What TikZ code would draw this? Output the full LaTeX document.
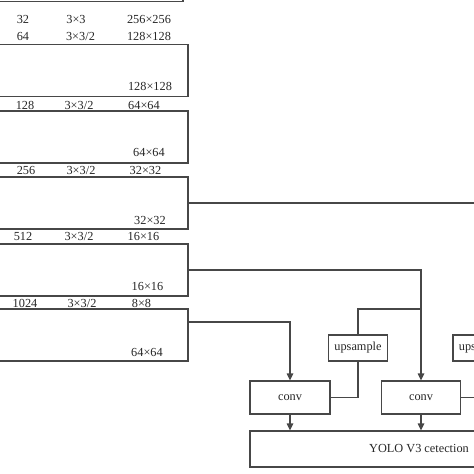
\documentclass[tikz,border=0pt]{standalone}
\usepackage{fontspec}
\setmainfont{Liberation Serif}
\usetikzlibrary{arrows.meta}
\begin{document}
\begin{tikzpicture}[x=1pt,y=-1pt,
  every node/.style={font=\fontsize{12.3}{14}\selectfont, text=black!85},
  ln/.style={draw=black!72, line width=1.2pt},
  arr/.style={ln, -{Triangle[length=7pt,width=6.5pt]}},
  bigbox/.style={ln, minimum width=198pt, minimum height=52pt, inner sep=0pt},
  smallbox/.style={ln, minimum height=33pt, inner sep=0pt},
  lbl/.style={inner sep=0pt, anchor=center}]
\useasboundingbox (0,0) rectangle (474,474);
\clip (0,0) rectangle (474,474);
% top partial box
\draw[ln] (-10,-20) rectangle (183,1.5);
% row labels
\node[lbl] (r1a) at (23,19.5) {32};
\node[lbl] (r1b) at (76,19.5) {3×3};
\node[lbl] (r1c) at (149,19.5) {256×256};
\node[lbl] (r2a) at (23,36) {64};
\node[lbl] (r2b) at (80.5,36) {3×3/2};
\node[lbl] (r2c) at (149,36) {128×128};
% box 1
\node[bigbox] (b1) at (89,70.5) {};
\node[lbl] (b1l) at (150,86) {128×128};
\node[lbl] (r3a) at (25,105) {128};
\node[lbl] (r3b) at (79,105) {3×3/2};
\node[lbl] (r3c) at (144,105) {64×64};
% box 2
\node[bigbox] (b2) at (89,137) {};
\node[lbl] (b2l) at (149,152.7) {64×64};
\node[lbl] (r4a) at (26,170.7) {256};
\node[lbl] (r4b) at (81,170.7) {3×3/2};
\node[lbl] (r4c) at (145.5,170.7) {32×32};
% box 3
\node[bigbox] (b3) at (89,203) {};
\node[lbl] (b3l) at (150,220.7) {32×32};
\node[lbl] (r5a) at (23,236.7) {512};
\node[lbl] (r5b) at (79,236.7) {3×3/2};
\node[lbl] (r5c) at (143.5,236.7) {16×16};
% box 4
\node[bigbox] (b4) at (89,270) {};
\node[lbl] (b4l) at (147.5,286.7) {16×16};
\node[lbl] (r6a) at (25,303.3) {1024};
\node[lbl] (r6b) at (82,303.3) {3×3/2};
\node[lbl] (r6c) at (141.5,303.3) {8×8};
% box 5
\node[bigbox] (b5) at (89,335) {};
\node[lbl] (b5l) at (147,352.3) {64×64};
% right part
\node[smallbox, minimum width=80pt] (conv1) at (290,397.5) {conv};
\node[smallbox, minimum width=79pt] (conv2) at (421,397.5) {conv};
\node[ln, minimum width=59pt, minimum height=26pt, inner sep=0pt] (ups1) at (358,348) {upsample};
\node[ln, minimum width=59pt, minimum height=26pt, inner sep=0pt] (ups2) at (482.5,348) {upsample};
\node[ln, minimum width=338pt, minimum height=36pt, inner sep=0pt] (yolo) at (419,449) {YOLO V3 cetection};
\coordinate (e3) at (490,203);
\coordinate (e2) at (490,397.5);
\coordinate (j1) at (421,309);
% connectors
\draw[ln] (b3.east) -- (e3);
\draw[arr] (b4.east) -| (conv2.north);
\draw[ln] (j1) -| (ups1.north);
\draw[arr] (b5.east |- {(0,322)}) -| (conv1.north);
\draw[ln] (ups1.south) |- (conv1.east);
\draw[ln] (conv2.east) -- (e2);
\draw[arr] (conv1.south) -- (conv1.south |- yolo.north);
\draw[arr] (conv2.south) -- (conv2.south |- yolo.north);
\end{tikzpicture}
\end{document}
